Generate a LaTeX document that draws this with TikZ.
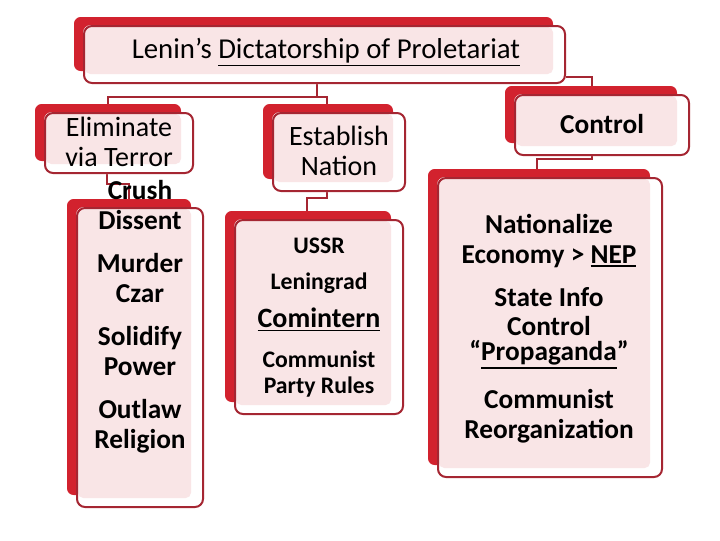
\documentclass[tikz,border=0pt]{standalone}
\usepackage{fontspec}
\setmainfont{Carlito}
\usetikzlibrary{positioning, fit, calc}
\pgfdeclarelayer{background}
\pgfsetlayers{background,main}
\definecolor{redback}{RGB}{210,34,46}
\definecolor{framered}{RGB}{165,38,50}
\definecolor{pinkfill}{RGB}{249,229,230}
\newcommand{\cardfont}{\fontsize{21}{22}\selectfont}
\newcommand{\listfont}{\fontsize{20.5}{22.5}\selectfont\bfseries}
\newcommand{\uln}[1]{\leavevmode\vtop{\hbox{#1}\kern1.4pt\hrule height 1.2pt}}

\begin{document}
\begin{tikzpicture}[x=0.75pt, y=-0.75pt]
  \tikzstyle{card} = [draw=framered, line width=1.5pt, rounded corners=6pt, inner sep=0pt]
  \tikzstyle{words} = [align=center, anchor=base, inner sep=0pt, font=\cardfont]
  \tikzstyle{list} = [align=center, anchor=base, inner sep=0pt, font=\listfont]
  \tikzstyle{link} = [draw=framered, line width=2pt]
  \useasboundingbox (0,0) rectangle (720,540);

  % boxes
  \node (title) [card, fit={(84,26) (565,83)}] {};
  \node (elim) [card, fit={(45,113) (193,173)}] {};
  \node (estab) [card, fit={(273,113) (405,191)}] {};
  \node (control) [card, fit={(515,95) (689,155)}] {};
  \node (terrorbox) [card, fit={(77,208) (203,507)}] {};
  \node (nationbox) [card, fit={(235,220) (403,414)}] {};
  \node (ctrlbox) [card, fit={(438,178) (662,477)}] {};

  % texts (anchored at the last baseline)
  \node (titletext) [words, font=\fontsize{21.6}{22}\selectfont] at (326,58) {Lenin’s \uln{Dictatorship of Proletariat}};
  \node (elimtext) [words] at (119,166) {Eliminate\\via Terror};
  \node (estabtext) [words] at (339,175) {Establish\\Nation};
  \node (controltext) [list] at (602,133) {Control};
  \node (terrortext) [list] at (140,448) {Crush\\Dissent\\[9.75pt]Murder\\Czar\\[9.75pt]Solidify\\Power\\[9.75pt]Outlaw\\Religion};
  \node (nationtext) [list, font=\fontsize{17.8}{19}\selectfont\bfseries] at (319,393) {USSR\\[8pt]Leningrad\\[9.5pt]{\fontsize{21}{19}\selectfont\uln{Comintern}}\\[11pt]Communist\\Party Rules};
  \node (ctrltext) [list, font=\fontsize{20.5}{22}\selectfont\bfseries] at (549,438) {Nationalize\\Economy > \uln{NEP}\\[10.3pt]State Info\\Control\\[-3.25pt]“\uln{Propaganda}”\\[14pt]Communist\\Reorganization};

  \begin{pgfonlayer}{background}
    \draw[link] ([shift={(-7.5,0)}]title.south) -- ++(0,13) -| ([shift={(64,0)}]elim.north west);
    \draw[link] ([shift={(-7.5,0)}]title.south) -- ++(0,13) -| ([shift={(55,0)}]estab.north west);
    \draw[link] ([shift={(0,-7)}]title.south east) -| ([shift={(78,0)}]control.north west);
    \draw[link] ([shift={(63,0)}]elim.south west) -- ++(0,10) -| ([shift={(53,0)}]terrorbox.north west);
    \draw[link] ([shift={(55,0)}]estab.south west) -- ++(0,6) -| ([shift={(73,0)}]nationbox.north west);
    \draw[link] ([shift={(78,0)}]control.south west) -- ++(0,3) -| ([shift={(100,0)}]ctrlbox.north west);
    \foreach \n in {title, elim, estab, control, terrorbox, nationbox, ctrlbox} {
      \fill[redback, rounded corners=5pt] ([shift={(-9,-8)}]\n.north west) rectangle ([shift={(-13,-13)}]\n.south east);
      \fill[white, rounded corners=6pt] (\n.north west) rectangle (\n.south east);
      \fill[pinkfill, rounded corners=4pt] ([shift={(2,2)}]\n.north west) rectangle ([shift={(-13,-10)}]\n.south east);
    }
  \end{pgfonlayer}
\end{tikzpicture}
\end{document}
